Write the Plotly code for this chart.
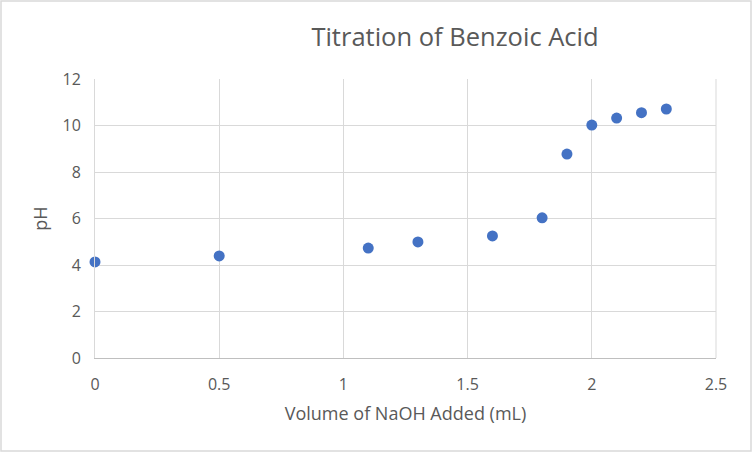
import plotly.graph_objects as go

volume_ml = [0, 0.5, 1.1, 1.3, 1.6, 1.8, 1.9, 2.0, 2.1, 2.2, 2.3]
ph_values = [4.13, 4.39, 4.73, 4.99, 5.25, 6.03, 8.77, 10.02, 10.32, 10.55, 10.71]
x_ticks = [0, 0.5, 1, 1.5, 2, 2.5]
x_tick_labels = ["0", "0.5", "1", "1.5", "2", "2.5"]
y_ticks = [0, 2, 4, 6, 8, 10, 12]

W, H = 752, 452
L, R, T, B = 95, 36, 79, 94
pw, ph = W - L - R, H - T - B

font = "Open Sans, Segoe UI, sans-serif"
grey = "#595959"

fig = go.Figure()
fig.add_trace(go.Scatter(
    x=volume_ml, y=ph_values, mode="markers",
    marker=dict(size=11, color="#4472C4", line=dict(width=0)),
    showlegend=False, cliponaxis=False,
))

fig.update_layout(
    width=W, height=H,
    margin=dict(l=L, r=R, t=T, b=B),
    paper_bgcolor="white", plot_bgcolor="white",
    font=dict(family=font, color=grey),
    title=dict(text="Titration of Benzoic Acid",
               font=dict(size=25.5, color=grey, family=font),
               x=455 / W, xanchor="center", y=1 - 37 / H, yanchor="middle"),
    xaxis=dict(range=[0, 2.5], tickvals=x_ticks, ticktext=x_tick_labels,
               showgrid=True, gridcolor="#d9d9d9", gridwidth=1,
               zeroline=False, showline=True, linecolor="#bfbfbf", linewidth=1,
               ticks="outside", ticklen=0, ticklabelstandoff=12,
               tickfont=dict(size=16, color=grey),
               title=dict(text="Volume of NaOH Added (mL)", font=dict(size=18, color=grey), standoff=13)),
    yaxis=dict(range=[0, 12], tickvals=y_ticks,
               showgrid=True, gridcolor="#d9d9d9", gridwidth=1,
               zeroline=False, showline=True, linecolor="#d9d9d9", linewidth=1,
               mirror=False, ticklabelstandoff=10,
               tickfont=dict(size=16, color=grey),
               title=dict(text="pH", font=dict(size=18, color=grey), standoff=10)),
    shapes=[dict(type="line", xref="paper", yref="paper", x0=1, x1=1, y0=0, y1=1,
                 line=dict(color="#d9d9d9", width=1)),
            dict(type="rect", xref="paper", yref="paper",
                 x0=(1 - L) / pw, x1=(W - 1 - L) / pw,
                 y0=((T + ph) - (H - 1)) / ph, y1=((T + ph) - 1) / ph,
                 line=dict(color="#d9d9d9", width=1.5), layer="below")],
)

fig.write_html("out.html")
